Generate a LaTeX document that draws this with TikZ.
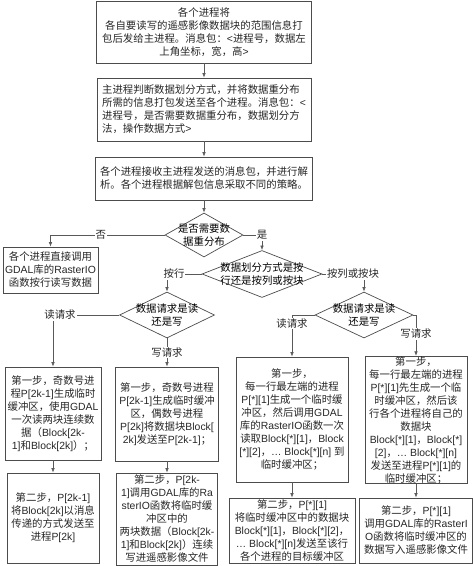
\documentclass[tikz,border=0pt]{standalone}
\usepackage{fontspec}
\setmainfont{Liberation Sans}
\newfontfamily\cjkfont{Noto Sans CJK SC}
\newfontfamily\latfont{Liberation Sans}
\XeTeXinterchartokenstate=1
\newXeTeXintercharclass\cjkclass
\newcount\cjkchar
\def\setcjkrange#1#2{\cjkchar=#1
  \loop\XeTeXcharclass\cjkchar=\cjkclass
  \ifnum\cjkchar<#2\advance\cjkchar by 1\repeat}
\setcjkrange{"3000}{"303F}
\setcjkrange{"4E00}{"9FFF}
\setcjkrange{"FF00}{"FFEF}
\XeTeXinterchartoks 0 \cjkclass = {\cjkfont}
\XeTeXinterchartoks 4095 \cjkclass = {\cjkfont}
\XeTeXinterchartoks \cjkclass 0 = {\latfont}
\usetikzlibrary{shapes.geometric,arrows.meta}

\begin{document}
\begin{tikzpicture}[x=1pt,y=-1pt,
  font=\fontsize{10.4}{13}\selectfont,
  box/.style={draw=black!70,line width=0.7pt,align=center,inner sep=0pt,text=black!85},
  decision/.style={draw=black!70,line width=0.7pt,diamond,inner sep=0pt},
  line/.style={draw=black!65,line width=0.6pt},
  arr/.style={line,-{Latex[length=4.5pt,width=3.5pt]}},
  lab/.style={fill=white,inner sep=1pt,text=black!85}]
\useasboundingbox (0,0) rectangle (474,566);

\node[box,minimum width=215pt,minimum height=62pt] (init) at (204,32) {各个进程将\\各自要读写的遥感影像数据块的范围信息打\\包后发给主进程。消息包：<进程号，数据左\\上角坐标，宽，高>};
\node[box,align=left,minimum width=214pt,minimum height=63pt] (dispatch) at (204,109.5) {主进程判断数据划分方式，并将数据重分布\\所需的信息打包发送至各个进程。消息包：<\\进程号，是否需要数据重分布，数据划分方\\法，操作数据方式>};
\node[box,minimum width=217pt,minimum height=43pt] (parse) at (204,178.5) {各个进程接收主进程发送的消息包，并进行解\\析。各个进程根据解包信息采取不同的策略。};
\node[decision,minimum width=78pt,minimum height=44pt,label={[align=center]center:是否需要数\\据重分布}] (redist) at (204,235) {};
\node[box,minimum width=95pt,minimum height=46pt] (direct) at (50.5,270) {各个进程直接调用\\GDAL库的RasterIO\\函数按行读写数据};
\node[decision,minimum width=120pt,minimum height=47pt,label={[align=center]center:数据划分方式是按\\行还是按列或按块}] (split) at (262,274) {};
\node[decision,minimum width=95pt,minimum height=46pt,label={[align=center]center:数据请求是读\\还是写}] (rowreq) at (167,315) {};
\node[decision,minimum width=98pt,minimum height=46pt,label={[align=center]center:数据请求是读\\还是写}] (blkreq) at (364,315) {};

\node[box,minimum width=96pt,minimum height=93pt] (rowread1) at (53,413.5) {第一步，奇数号进\\程P[2k-1]生成临时\\缓冲区，使用GDAL\\一次读两块连续数\\据（Block[2k-\\1]和Block[2k]）；};
\node[box,minimum width=103pt,minimum height=94pt] (rowwrite1) at (167,414) {第一步，奇数号进程\\P[2k-1]生成临时缓冲\\区，偶数号进程\\P[2k]将数据块Block[\\2k]发送至P[2k-1]；};
\node[box,minimum width=112pt,minimum height=125pt] (blkread1) at (292,419.5) {第一步，\\每一行最左端的进程\\P[*][1]生成一个临时缓\\冲区，然后调用GDAL\\库的RasterIO函数一次\\读取Block[*][1]，Block\\{}[*][2]，… Block[*][n] 到\\临时缓冲区；};
\node[box,minimum width=102pt,minimum height=126pt] (blkwrite1) at (416,420) {第一步，\\每一行最左端的进程\\P[*][1]先生成一个临\\时缓冲区，然后该\\行各个进程将自己的\\数据块\\Block[*][1]，Block[*]\\{}[2]，… Block[*][n]\\发送至进程P[*][1]的\\临时缓冲区；};

\node[box,minimum width=92pt,minimum height=90pt] (rowread2) at (53,518) {第二步，P[2k-1]\\将Block[2k]以消息\\传递的方式发送至\\进程P[2k]};
\node[box,minimum width=101pt,minimum height=92pt] (rowwrite2) at (167,519) {第二步，P[2k-\\1]调用GDAL库的Ra\\sterIO函数将临时缓\\冲区中的\\两块数据（Block[2k-\\1]和Block[2k]）连续\\写进遥感影像文件};
\node[box,minimum width=126pt,minimum height=65pt] (blkread2) at (292,530.5) {第二步，P[*][1]\\将临时缓冲区中的数据块\\Block[*][1]，Block[*][2]，\\… Block[*][n]发送至该行\\各个进程的目标缓冲区};
\node[box,minimum width=113pt,minimum height=65pt] (blkwrite2) at (416,530.5) {第二步，P[*][1]\\调用GDAL库的RasterI\\O函数将临时缓冲区的\\数据写入遥感影像文件};

\draw[arr] (init) -- (dispatch);
\draw[arr] (dispatch) -- (parse);
\draw[arr] (parse) -- (redist);
\draw[arr] (redist.west) -| node[lab,pos=0.28]{否} (direct.north);
\draw[arr] (redist.east) -| node[lab,pos=0.5]{是} (split.north);
\draw[arr] (split.west) -| node[lab,pos=0.5,xshift=7pt]{按行} (rowreq.north);
\draw[arr] (split.east) -| node[lab,pos=0.5,xshift=-11pt]{按列或按块} (blkreq.north);
\draw[arr] (rowreq.west) -| node[lab,pos=0.5,xshift=7pt]{读请求} (rowread1.north);
\draw[arr] (rowreq.south) -- node[lab,pos=0.5]{写请求} (rowwrite1.north);
\draw[arr] (blkreq.west) -| node[lab,pos=0.6]{读请求} (blkread1.north);
\draw[arr] (blkreq.east) -| node[lab,pos=0.73]{写请求} (blkwrite1.north);
\draw[arr] (rowread1) -- (rowread2);
\draw[arr] (rowwrite1) -- (rowwrite2);
\draw[arr] (blkread1) -- (blkread2);
\draw[arr] (blkwrite1) -- (blkwrite2);
\end{tikzpicture}
\end{document}
